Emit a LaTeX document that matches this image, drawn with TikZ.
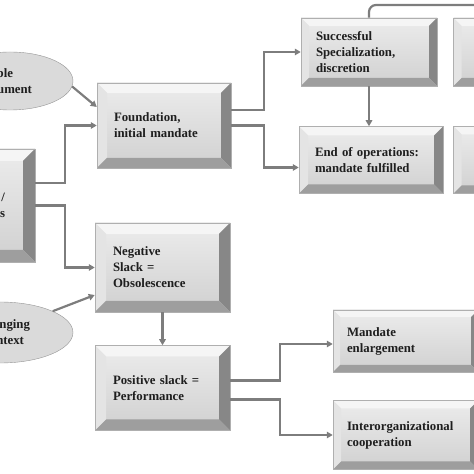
\documentclass[tikz,border=0pt]{standalone}
\usepackage{fontspec}
\setmainfont{Liberation Serif}
\usetikzlibrary{positioning,arrows.meta,calc,shapes.geometric}
\definecolor{FaceTop}{RGB}{236,236,236}
\definecolor{FaceBot}{RGB}{208,208,208}
\definecolor{BevTop}{RGB}{245,245,245}
\definecolor{BevLeft}{RGB}{228,228,228}
\definecolor{BevRight}{RGB}{135,135,135}
\definecolor{BevBot}{RGB}{158,158,158}
\definecolor{EdgeGray}{RGB}{175,175,175}
\definecolor{LinkGray}{RGB}{125,125,125}
\definecolor{OvalFill}{RGB}{218,218,218}
\definecolor{InkGray}{RGB}{30,30,30}
% the four slanted faces of a raised box
\newcommand\bevelfaces[1]{%
  \def\bb{path picture bounding box}%
  \fill[BevTop] (\bb.north west) -- (\bb.north east) -- ([shift={(-#1,-#1)}]\bb.north east) -- ([shift={(#1,-#1)}]\bb.north west) -- cycle;
  \fill[BevLeft] (\bb.north west) -- (\bb.south west) -- ([shift={(#1,#1)}]\bb.south west) -- ([shift={(#1,-#1)}]\bb.north west) -- cycle;
  \fill[BevRight] (\bb.north east) -- (\bb.south east) -- ([shift={(-#1,#1)}]\bb.south east) -- ([shift={(-#1,-#1)}]\bb.north east) -- cycle;
  \fill[BevBot] (\bb.south west) -- (\bb.south east) -- ([shift={(-#1,#1)}]\bb.south east) -- ([shift={(#1,#1)}]\bb.south west) -- cycle;
}
\tikzset{
  link/.style={-{Triangle[length=6pt,width=6.5pt]},line width=2.2pt,draw=LinkGray},
  plainlink/.style={line width=2.2pt,draw=LinkGray,rounded corners=7pt},
  bevelbox/.style={draw=EdgeGray,line width=0.5pt,top color=FaceTop,bottom color=FaceBot,
    inner sep=0pt,align=left,text=InkGray,font=\fontsize{12.8}{16}\selectfont\bfseries,
    path picture={\bevelfaces{#1}}},
  bevelbox/.default=10,
  oval/.style={ellipse,draw=EdgeGray!85!black,fill=OvalFill,inner sep=0pt,align=right,
    text=InkGray,font=\fontsize{12.8}{16}\selectfont\bfseries}
}

\begin{document}
\begin{tikzpicture}[x=1pt,y=1pt]
  \useasboundingbox (0,0) rectangle (474,474);
  \clip (0,0) rectangle (474,474);

  % left column
  \node[oval,minimum width=126pt,minimum height=58pt,text width=44pt] (env) at (10,393) {ble\hbox to 19pt{}\\ument};
  \node[bevelbox=12,minimum width=135pt,minimum height=113pt,text width=75pt,align=right] (lbox) at (-32.5,268.5) {/\\s};
  \node[oval,minimum width=146pt,minimum height=61pt,text width=60pt] (context) at (0,141.5) {nging\\ntext\hbox to 6pt{}};

  % middle column
  \node[bevelbox=10,minimum width=134pt,minimum height=85pt,text width=100pt] (found) at (164,348.5) {Foundation,\\initial mandate};
  \node[bevelbox=11,minimum width=135pt,minimum height=89pt,text width=99pt] (neg) at (162.5,206.5) {Negative\\Slack =\\Obsolescence};
  \node[bevelbox=11,minimum width=135pt,minimum height=85pt,text width=99pt,below=33pt of neg] (pos) {Positive slack =\\Performance};

  % right column
  \node[bevelbox=8,minimum width=136pt,minimum height=68pt,text width=106pt] (succ) at (369,422) {Successful\\Specialization,\\discretion};
  \node[bevelbox=9,minimum width=144pt,minimum height=67pt,text width=112pt,below=40pt of succ,xshift=2pt] (endop) {End of operations:\\mandate fulfilled};
  \node[bevelbox=8,minimum width=137pt,minimum height=68pt,right=16pt of succ] (rtop) {};
  \node[bevelbox=8,minimum width=137pt,minimum height=67pt,right=10pt of endop] (rbot) {};
  \node[bevelbox=7,minimum width=145pt,minimum height=62pt,text width=117pt] (mand) at (405.5,133) {Mandate\\enlargement};
  \node[bevelbox=8,minimum width=145pt,minimum height=69pt,text width=117pt,below=28pt of mand] (inter) {Interorganizational\\cooperation};
  \coordinate (offtop) at (490,469);

  % connectors
  \draw[link] (env.-5) -- ([yshift=18.5pt]found.west);
  \draw[link] ([yshift=22.5pt]lbox.east) -- ++(30,0) |- (found.west);
  \draw[link] (lbox.east) -- ++(30,0) |- (neg.west);
  \draw[link] (context.22) -- ([yshift=-27.5pt]neg.west);
  \draw[link] (neg) -- (pos);
  \draw[link] ([yshift=7.5pt]pos.east) -- ++(50,0) |- ([yshift=-3pt]mand.west);
  \draw[link] ([yshift=-11.5pt]pos.east) -- ++(50,0) |- (inter.west);
  \draw[link] ([yshift=15.5pt]found.east) -- ++(33,0) |- (succ.west);
  \draw[link] (found.east) -- ++(33,0) |- ([yshift=-7.5pt]endop.west);
  \draw[link] (succ.south) -- (succ.south |- endop.north);
  \draw[plainlink] (succ.north) |- (offtop);
\end{tikzpicture}
\end{document}
